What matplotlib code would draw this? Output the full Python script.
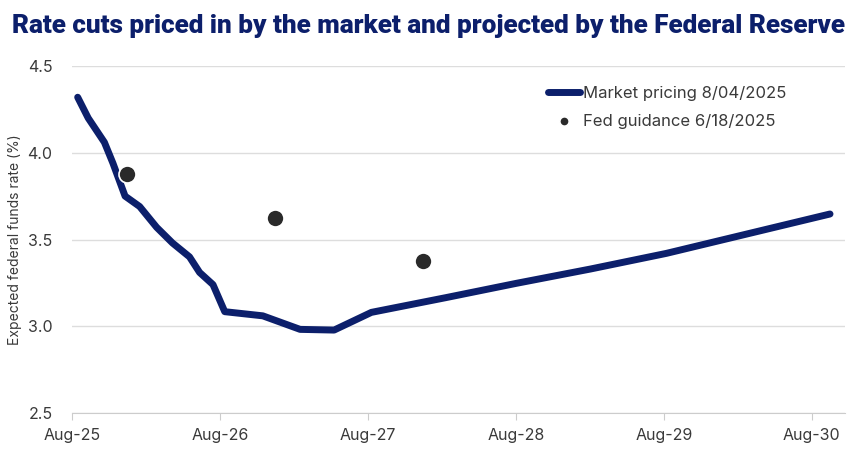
import numpy as np
import pandas as pd
import matplotlib
matplotlib.use("Agg")
import matplotlib.pyplot as plt
import matplotlib.dates as mdates

# market pricing (date, expected rate)
market_dates = ['2025-08-15', '2025-09-10', '2025-10-20', '2025-11-10', '2025-12-10',
                '2026-01-15', '2026-02-26', '2026-04-06', '2026-05-18', '2026-06-12',
                '2026-07-15', '2026-08-13', '2026-11-15', '2027-02-15', '2027-05-10',
                '2027-08-10', '2028-02-10', '2028-08-01', '2029-02-01', '2029-08-07',
                '2030-02-01', '2030-09-15']
market_rate = [4.32, 4.20, 4.06, 3.94, 3.75,
               3.69, 3.57, 3.48, 3.40, 3.31,
               3.24, 3.084, 3.06, 2.982, 2.978,
               3.08, 3.165, 3.247, 3.33, 3.42,
               3.52, 3.647]

fed_dates = ['2025-12-15', '2026-12-15', '2027-12-15']
fed_rate = [3.875, 3.625, 3.375]

tick_dates = ['2025-08-01', '2026-08-01', '2027-08-01', '2028-08-01', '2029-08-01', '2030-08-01']

navy = '#0c1f6b'
grey_text = '#3a3a3a'

plt.rcParams['font.family'] = ['Inter', 'DejaVu Sans']

fig = plt.figure(figsize=(8.55, 4.5), dpi=100)
ax = fig.add_axes([72/855, 1-413/450, (845-72)/855, (413-66)/450])

ax.plot(pd.to_datetime(market_dates), market_rate, color=navy, lw=5,
        solid_capstyle='round', solid_joinstyle='round', label='Market pricing 8/04/2025', zorder=3)
ax.scatter(pd.to_datetime(fed_dates), fed_rate, s=150, color='#2a2a2a', edgecolor='white',
           linewidth=1.2, label='Fed guidance 6/18/2025', zorder=4)

ax.set_ylim(2.5, 4.5)
ax.set_yticks([2.5, 3.0, 3.5, 4.0, 4.5])
ax.set_yticklabels(['2.5', '3.0', '3.5', '4.0', '4.5'])
ax.set_xlim(pd.Timestamp('2025-08-01'), pd.Timestamp('2030-10-22'))
ax.set_xticks(pd.to_datetime(tick_dates))
ax.xaxis.set_major_formatter(mdates.DateFormatter('%b-%y'))

ax.grid(axis='y', color='#dddddd', lw=1)
ax.set_axisbelow(True)
for s in ['top', 'right', 'left']:
    ax.spines[s].set_visible(False)
ax.spines['bottom'].set_color('#cccccc')
ax.tick_params(axis='y', length=0, pad=14, labelsize=11.5, labelcolor=grey_text)
ax.tick_params(axis='x', length=5, color='#cccccc', pad=6, labelsize=11.5, labelcolor=grey_text)
ax.set_ylabel('Expected federal funds rate (%)', fontsize=10, color=grey_text, labelpad=4)

leg = ax.legend(loc='upper right', bbox_to_anchor=(0.944, 0.985), frameon=False, fontsize=12,
                handlelength=1.9, handletextpad=0.2, labelspacing=0.75, markerscale=0.55,
                labelcolor=grey_text)

fig.text(12/855, 1-26/450, 'Rate cuts priced in by the market and projected by the Federal Reserve',
         fontsize=18.8, fontweight='heavy', color=navy, va='center', ha='left',
         family=['Roboto', 'DejaVu Sans'])

fig.savefig('out.png', dpi=100)
